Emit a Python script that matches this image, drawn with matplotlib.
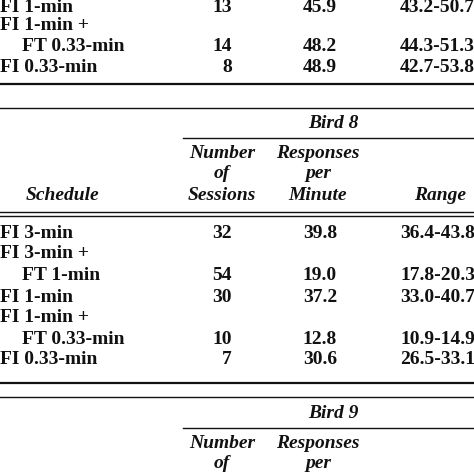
import matplotlib
matplotlib.use("Agg")
import matplotlib.pyplot as plt

top_sched = ["FI 1-min", "FI 1-min +", "   FT 0.33-min", "FI 0.33-min"]
top_n = ["13", "", "14", "8"]
top_r = ["45.9", "", "48.2", "48.9"]
top_rng = ["43.2-50.7", "", "44.3-51.3", "42.7-53.8"]

b8_sched = ["FI 3-min", "FI 3-min +", "   FT 1-min", "FI 1-min", "FI 1-min +", "   FT 0.33-min", "FI 0.33-min"]
b8_n = ["32", "", "54", "30", "", "10", "7"]
b8_r = ["39.8", "", "19.0", "37.2", "", "12.8", "30.6"]
b8_rng = ["36.4-43.8", "", "17.8-20.3", "33.0-40.7", "", "10.9-14.9", "26.5-33.1"]

fig = plt.figure(figsize=(4.74, 4.74), dpi=100)
ax = fig.add_axes([0, 0, 1, 1])
ax.set_xlim(0, 474); ax.set_ylim(474, 0); ax.axis("off")
F = dict(family="Liberation Serif", fontsize=14, color="#111", va="center")
B = dict(F, weight="bold")
I = dict(F, style="italic", weight="bold")

def rows(ys, s, n, r, g):
    for y, a, b, c, d in zip(ys, s, n, r, g):
        x = 22 if a.startswith(" ") else 0
        ax.text(x, y, a.strip(), ha="left", **B)
        ax.text(232, y, b, ha="right", **B)
        ax.text(320, y, c, ha="center", **B)
        ax.text(400, y, d, ha="left", **B)

rows([7, 25, 46, 67], top_sched, top_n, top_r, top_rng)
ax.plot([0, 474], [84, 84], color="#111", lw=1.6)
ax.plot([0, 474], [108, 108], color="#111", lw=1.0)

def header(y0, bird, full=True):
    ax.text(333, y0, bird, ha="center", **I)
    ax.plot([183, 474], [y0 + 15, y0 + 15], color="#111", lw=1.0)
    ax.text(222, y0 + 30, "Number", ha="center", **I)
    ax.text(222, y0 + 51, "of", ha="center", **I)
    ax.text(318, y0 + 30, "Responses", ha="center", **I)
    ax.text(318, y0 + 51, "per", ha="center", **I)
    if full:
        ax.text(222, y0 + 72, "Sessions", ha="center", **I)
        ax.text(318, y0 + 72, "Minute", ha="center", **I)
        ax.text(62, y0 + 73, "Schedule", ha="center", **I)
        ax.text(440, y0 + 73, "Range", ha="center", **I)

header(123, "Bird 8")
ax.plot([0, 474], [212, 212], color="#111", lw=1.0)
ax.plot([0, 474], [216, 216], color="#111", lw=1.0)
rows([233, 254, 276, 297, 318, 339, 360], b8_sched, b8_n, b8_r, b8_rng)
ax.plot([0, 474], [383, 383], color="#111", lw=1.6)
ax.plot([0, 474], [397, 397], color="#111", lw=1.0)
header(413, "Bird 9", full=False)

fig.savefig("out.png", dpi=100, facecolor="white")
